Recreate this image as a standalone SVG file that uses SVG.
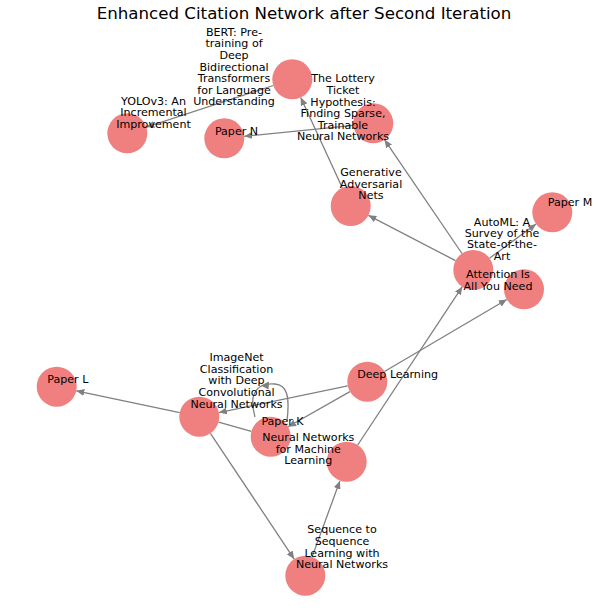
<svg xmlns="http://www.w3.org/2000/svg" width="598" height="611" viewBox="0 0 598 611">
<defs>
<marker id="arr" markerWidth="8" markerHeight="7" refX="8" refY="3.5" orient="auto" markerUnits="userSpaceOnUse">
<path d="M0,0 L8,3.5 L0,7 Z" fill="#808080"/>
</marker>
<style>
.e{stroke:#808080;stroke-width:1.3;fill:none}
.a{marker-end:url(#arr)}
.n{fill:#F08080}
.t{font-family:"DejaVu Sans",sans-serif;font-size:11.1px;fill:#000;text-anchor:middle}
.title{font-family:"DejaVu Sans",sans-serif;font-size:16.67px;fill:#000;text-anchor:middle}
</style>
</defs>
<rect width="598" height="611" fill="#fff"/>
<text class="title" x="304" y="19">Enhanced Citation Network after Second Iteration</text>
<g id="edges">
<line class="e a" x1="273.3" y1="85.5" x2="146.3" y2="127.1"/>
<line class="e a" x1="353.4" y1="125.3" x2="244.2" y2="136.3"/>
<line class="e a" x1="342.3" y1="187.8" x2="300.7" y2="97.5"/>
<line class="e a" x1="462.0" y1="253.5" x2="384.6" y2="139.8"/>
<line class="e a" x1="455.6" y1="260.7" x2="368.4" y2="215.3"/>
<line class="e a" x1="489.5" y1="258.2" x2="536.1" y2="224.1"/>
<line class="e a" x1="384.5" y1="371.5" x2="506.8" y2="299.5"/>
<line class="e a" x1="357.7" y1="445.0" x2="462.3" y2="286.7"/>
<line class="e a" x1="347.7" y1="385.8" x2="218.9" y2="412.6"/>
<line class="e a" x1="349.9" y1="391.6" x2="288.1" y2="426.8"/>
<line class="e a" x1="179.7" y1="412.6" x2="76.3" y2="390.8"/>
<line class="e a" x1="210.4" y1="433.3" x2="294.2" y2="559.1"/>
<line class="e a" x1="312.1" y1="556.9" x2="339.9" y2="480.9"/>
<line class="e" x1="218.6" y1="422.1" x2="251.4" y2="431.3"/>
<path class="e" d="M287,421 C290,396 287,385 275,384 C263,383 255,388 253,398 C252,405 253,410 255,417"/>
<path d="M261,385.5 L269,381.5 L268.5,389.5 Z" fill="#808080"/>
</g>
<g id="n_bert"><circle class="n" cx="292.3" cy="79.3" r="20"/>
<text class="t" x="234" y="35.7"><tspan x="234">BERT: Pre-</tspan><tspan x="234" dy="11.6">training of</tspan><tspan x="234" dy="11.6">Deep</tspan><tspan x="234" dy="11.6">Bidirectional</tspan><tspan x="234" dy="11.6">Transformers</tspan><tspan x="234" dy="11.6">for Language</tspan><tspan x="234" dy="11.6">Understanding</tspan></text></g>
<g id="n_yolo"><circle class="n" cx="127.3" cy="133.3" r="20"/>
<text class="t" x="153.5" y="104.7"><tspan x="153.5">YOLOv3: An</tspan><tspan x="153.5" dy="11.4">Incremental</tspan><tspan x="153.5" dy="11.4">Improvement</tspan></text></g>
<g id="n_papern"><circle class="n" cx="224.3" cy="138.3" r="20"/>
<text class="t" x="236.5" y="135">Paper N</text></g>
<g id="n_lottery"><circle class="n" cx="373.3" cy="123.3" r="20"/>
<text class="t" x="343" y="82.3"><tspan x="343">The Lottery</tspan><tspan x="343" dy="11.6">Ticket</tspan><tspan x="343" dy="11.6">Hypothesis:</tspan><tspan x="343" dy="11.6">Finding Sparse,</tspan><tspan x="343" dy="11.6">Trainable</tspan><tspan x="343" dy="11.6">Neural Networks</tspan></text></g>
<g id="n_gan"><circle class="n" cx="350.7" cy="206" r="20"/>
<text class="t" x="371" y="176.3"><tspan x="371">Generative</tspan><tspan x="371" dy="11.2">Adversarial</tspan><tspan x="371" dy="11.2">Nets</tspan></text></g>
<g id="n_paperm"><circle class="n" cx="552.3" cy="212.3" r="20"/>
<text class="t" x="570" y="206">Paper M</text></g>
<g id="n_automl"><circle class="n" cx="473.3" cy="270" r="20"/>
<text class="t" x="502" y="225.7"><tspan x="502">AutoML: A</tspan><tspan x="502" dy="11.3">Survey of the</tspan><tspan x="502" dy="11.3">State-of-the-</tspan><tspan x="502" dy="11.3">Art</tspan></text></g>
<g id="n_attention"><circle class="n" cx="524" cy="289.3" r="20"/>
<text class="t" x="498" y="278.3"><tspan x="498">Attention Is</tspan><tspan x="498" dy="11.7">All You Need</tspan></text></g>
<g id="n_paperl"><circle class="n" cx="56.7" cy="386.7" r="20"/>
<text class="t" x="67.8" y="383">Paper L</text></g>
<g id="n_imagenet"><circle class="n" cx="199.3" cy="416.7" r="20"/>
<text class="t" x="236.5" y="360.7"><tspan x="236.5">ImageNet</tspan><tspan x="236.5" dy="11.8">Classification</tspan><tspan x="236.5" dy="11.8">with Deep</tspan><tspan x="236.5" dy="11.8">Convolutional</tspan><tspan x="236.5" dy="11.8">Neural Networks</tspan></text></g>
<g id="n_deeplearning"><circle class="n" cx="367.3" cy="381.7" r="20"/>
<text class="t" x="397.6" y="378.3">Deep Learning</text></g>
<g id="n_paperk"><circle class="n" cx="270.7" cy="436.7" r="20"/>
<text class="t" x="282.5" y="425">Paper K</text></g>
<g id="n_nnml"><circle class="n" cx="346.7" cy="461.7" r="20"/>
<text class="t" x="308.3" y="441.3"><tspan x="308.3">Neural Networks</tspan><tspan x="308.3" dy="11.4">for Machine</tspan><tspan x="308.3" dy="11.4">Learning</tspan></text></g>
<g id="n_seq2seq"><circle class="n" cx="305.3" cy="575.7" r="20"/>
<text class="t" x="342" y="533.3"><tspan x="342">Sequence to</tspan><tspan x="342" dy="11.6">Sequence</tspan><tspan x="342" dy="11.6">Learning with</tspan><tspan x="342" dy="11.6">Neural Networks</tspan></text></g>
</svg>
